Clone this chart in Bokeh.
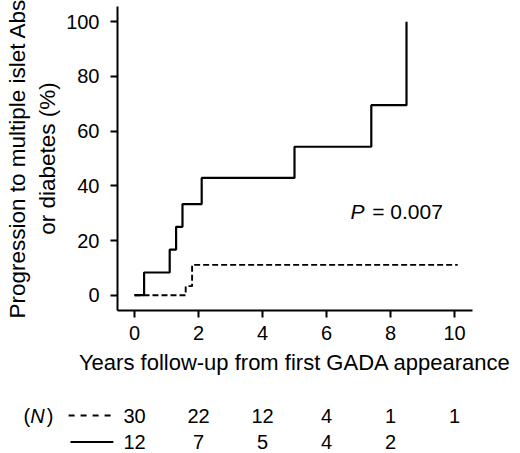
from bokeh.plotting import figure
from bokeh.layouts import column
from bokeh.models import Range1d, FixedTicker
from bokeh.core.properties import value
from bokeh.embed import file_html
from bokeh.resources import INLINE

# ---- data ----
solid_t = [0, 0.3, 1.1, 1.3, 1.5, 2.1, 5.0, 7.4, 8.5]
solid_pct = [0, 8.3, 16.7, 25.0, 33.3, 42.9, 54.3, 69.5, 100]
dashed_t = [0, 1.6, 1.8, 10.1]
dashed_pct = [0, 3.3, 11.1, 11.1]
risk_years = [0, 2, 4, 6, 8, 10]
risk_dashed = [30, 22, 12, 4, 1, 1]
risk_solid = [12, 7, 5, 4, 2]
x_ticks = [0, 2, 4, 6, 8, 10]
y_ticks = [0, 20, 40, 60, 80, 100]
p_value_text = "= 0.007"

FONT = "Liberation Sans"
TICK_FS = "20px"

# ---------------- main plot ----------------
p = figure(width=520, height=384, output_backend="svg", toolbar_location=None,
           x_range=Range1d(-0.531, 10.5625), y_range=Range1d(-5.6, 105.6),
           min_border_left=117, min_border_right=48, min_border_top=6,
           min_border_bottom=74)
p.outline_line_color = None
p.grid.visible = False
p.frame_align = False

p.step(solid_t, solid_pct, mode="after", line_color="black", line_width=2.2)
p.step(dashed_t, dashed_pct, mode="after", line_color="black", line_width=1.9,
       line_dash="6 3")

for ax, ticks in ((p.xaxis[0], x_ticks), (p.yaxis[0], y_ticks)):
    ax.ticker = FixedTicker(ticks=ticks)
    ax.minor_tick_line_color = None
    ax.major_tick_in = 0
    ax.major_tick_out = 7
    ax.axis_line_width = 2
    ax.major_tick_line_width = 2
    ax.axis_line_color = "black"
    ax.major_tick_line_color = "black"
    ax.major_label_text_font = FONT
    ax.major_label_text_font_size = TICK_FS
    ax.major_label_text_color = "black"
    ax.axis_label_text_font = FONT
    ax.axis_label_text_font_style = "normal"
    ax.axis_label_text_color = "black"

p.xaxis.axis_label = "Years follow-up from first GADA appearance"
p.xaxis.axis_label_text_font_size = "22px"
p.xaxis.major_label_standoff = 8
p.xaxis.axis_label_standoff = 7
p.yaxis.axis_label = "Progression to multiple islet Abs\nor diabetes (%)"
p.yaxis.axis_label_text_font_size = "22.5px"
p.yaxis.major_label_standoff = 11
p.yaxis.axis_label_standoff = 3

# P value annotation (data coordinates inside the frame)
p.text(x=[6.75], y=[30.5], text=["P"], text_font=value(FONT),
       text_font_size="21px", text_font_style="italic", text_color="black",
       text_baseline="middle", text_align="left")
p.text(x=[7.43], y=[30.5], text=[p_value_text], text_font=value(FONT),
       text_font_size="21px", text_color="black",
       text_baseline="middle", text_align="left")

# ---------------- numbers-at-risk table ----------------
q = figure(width=520, height=69, output_backend="svg", toolbar_location=None,
           x_range=Range1d(-4.1875, 12.0625), y_range=Range1d(-0.434, 2.17),
           x_axis_location=None, y_axis_location=None,
           min_border=0, min_border_left=0, min_border_right=0,
           min_border_top=0, min_border_bottom=0)
q.outline_line_color = None
q.grid.visible = False
q.frame_align = False

ROW_DASHED = 1
ROW_SOLID = 0


def txt(xs, y, texts, style="normal", align="center"):
    q.text(x=xs, y=[y] * len(xs), text=texts, text_font=value(FONT),
           text_font_size=TICK_FS, text_font_style=style, text_color="black",
           text_baseline="middle", text_align=align)


txt(risk_years, ROW_DASHED, [str(n) for n in risk_dashed])
txt(risk_years[:len(risk_solid)], ROW_SOLID, [str(n) for n in risk_solid])

txt([-3.47], ROW_DASHED, ["("], align="left")
txt([-3.26], ROW_DASHED, ["N"], style="italic", align="left")
txt([-2.74], ROW_DASHED, [")"], align="left")

q.line([-2.06, -0.6], [ROW_DASHED, ROW_DASHED], line_color="black",
       line_width=1.8, line_dash="6 6")
q.line([-2.0, -0.66], [ROW_SOLID, ROW_SOLID], line_color="black",
       line_width=2)

layout = column(p, q, spacing=0)
open("out.html", "w").write(file_html(layout, INLINE))
